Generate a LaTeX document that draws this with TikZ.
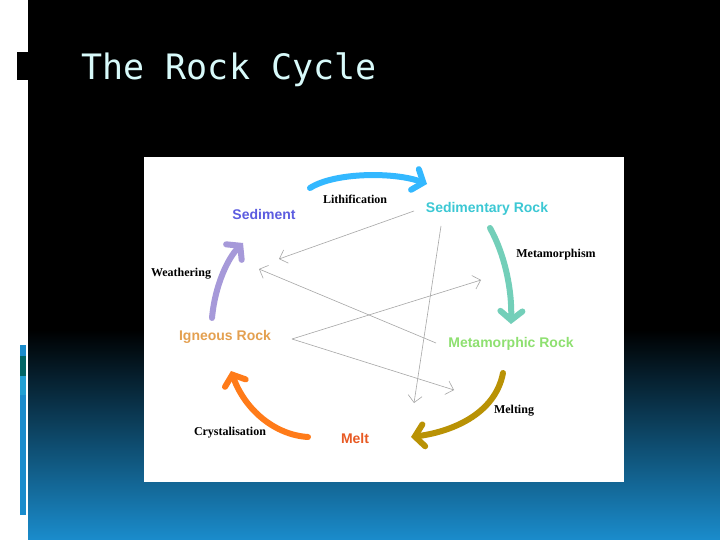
\documentclass[tikz,border=0pt]{standalone}
\usepackage{fontspec}
\setmainfont{Liberation Serif}
\setsansfont{Liberation Sans}
\setmonofont{DejaVu Sans Mono}
\usetikzlibrary{arrows.meta}
\definecolor{sedc}{HTML}{5C5CE0}
\definecolor{sedrc}{HTML}{3CC8D4}
\definecolor{metc}{HTML}{8EE070}
\definecolor{meltc}{HTML}{E85A24}
\definecolor{ignc}{HTML}{E4A050}
\definecolor{deepblue}{HTML}{1A8CCC}
\definecolor{titlec}{HTML}{D8FAFA}
\begin{document}
\begin{tikzpicture}[x=1pt,y=-1pt,
  rock/.style={font=\sffamily\bfseries\fontsize{14}{16}\selectfont},
  proc/.style={font=\rmfamily\bfseries\fontsize{12}{14}\selectfont, text=black},
  thick arrow/.style={line width=6pt, line cap=round, -{Straight Barb[length=9pt,width=22pt,line cap=round]}},
  thin arrow/.style={draw=gray!70, line width=0.6pt, -{Straight Barb[length=7pt,width=14pt]}}]
\useasboundingbox (0,0) rectangle (720,540);
\fill[white] (0,0) rectangle (720,540);
\fill[black] (28,0) rectangle (720,330);
\shade[top color=black, bottom color=deepblue] (28,330) rectangle (720,540);
\fill[black] (17,52) rectangle (28,80);
\fill[deepblue] (20,345) rectangle (26,515);
\fill[teal!80!black] (20,356) rectangle (26,376);
\fill[cyan!70!teal] (20,376) rectangle (26,395);
\node[font=\ttfamily\fontsize{35}{40}\selectfont, text=titlec, anchor=west] (title) at (78,70) {The Rock Cycle};
\fill[white] (144,157) rectangle (624,482);
% rock nodes
\node[rock, text=sedc] (sed) at (264,214) {Sediment};
\node[rock, text=sedrc] (sedr) at (487,209) {Sedimentary Rock};
\node[rock, text=metc] (met) at (511,344) {Metamorphic Rock};
\node[rock, text=meltc] (melt) at (355,438) {Melt};
\node[rock, text=ignc] (ign) at (225,337) {Igneous Rock};
% process labels
\node[proc] (lith) at (355,199) {Lithification};
\node[proc] (metam) at (556,255) {Metamorphism};
\node[proc] (melting) at (514,411) {Melting};
\node[proc] (cryst) at (230,433) {Crystalisation};
\node[proc] (weath) at (181,274) {Weathering};
% thick arrow endpoints
\coordinate (l1) at (310,188); \coordinate (l2) at (427,184);
\coordinate (m1) at (490,228); \coordinate (m2) at (511,324);
\coordinate (g1) at (503,373); \coordinate (g2) at (411,437);
\coordinate (c1) at (308,437); \coordinate (c2) at (231,371);
\coordinate (w1) at (212,318); \coordinate (w2) at (243,243);
\draw[thick arrow, color=blue!35!cyan!80!white] (l1) .. controls (335,172) and (395,172) .. (l2);
\draw[thick arrow, color=cyan!45!green!55!white] (m1) .. controls (505,255) and (512,290) .. (m2);
\draw[thick arrow, color=olive!60!orange] (g1) .. controls (495,415) and (450,432) .. (g2);
\draw[thick arrow, color=orange!85!red!90!white] (c1) .. controls (275,435) and (245,410) .. (c2);
\draw[thick arrow, color=brown!40!blue!50!white] (w1) .. controls (215,285) and (228,258) .. (w2);
% thin arrows
\coordinate (t1) at (414,211); \coordinate (t1e) at (279,259);
\coordinate (t2) at (436,343); \coordinate (t2e) at (259,269);
\coordinate (t3) at (292,339); \coordinate (t3e) at (481,280);
\coordinate (t4e) at (454,390);
\coordinate (t5) at (441,226); \coordinate (t5e) at (414,403);
\draw[thin arrow] (t1) -- (t1e);
\draw[thin arrow] (t2) -- (t2e);
\draw[thin arrow] (t3) -- (t3e);
\draw[thin arrow] (t3) -- (t4e);
\draw[thin arrow] (t5) -- (t5e);
\end{tikzpicture}
\end{document}
